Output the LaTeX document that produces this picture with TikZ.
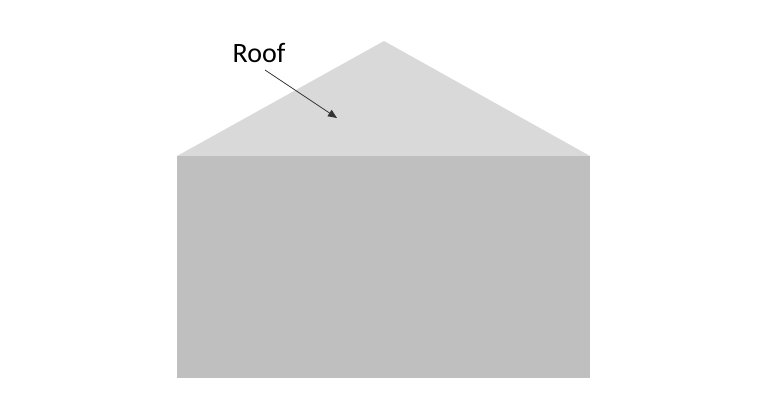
\documentclass[tikz,border=0pt]{standalone}
\usepackage{fontspec}
\setmainfont{Carlito}
\usetikzlibrary{arrows.meta}
\definecolor{roofgray}{HTML}{D9D9D9}
\definecolor{wallgray}{HTML}{BFBFBF}
\tikzset{
  roofshape/.style={fill=roofgray, draw=none},
  wallshape/.style={fill=wallgray, draw=none},
  labeltext/.style={font=\fontsize{28}{32}\selectfont, text=black, inner sep=0pt, anchor=center},
  pointer/.style={draw=black!80, line width=0.8pt, -{Triangle[length=9pt,width=7.5pt]}}
}
\begin{document}
\begin{tikzpicture}[x=1pt,y=-1pt]
\useasboundingbox (0,0) rectangle (768,417);
\coordinate (apex) at (384,41);
\coordinate (eaveL) at (177,156);
\coordinate (eaveR) at (590,156);
\coordinate (baseL) at (177,378);
\coordinate (baseR) at (590,378);
\fill[roofshape] (eaveL) -- (apex) -- (eaveR) -- cycle;
\fill[wallshape] (eaveL) rectangle (baseR);
\node[labeltext] (roof) at (259,53) {Roof};
\coordinate (tip) at (337,118);
\coordinate (tail) at (265,70);
\draw[pointer] (tail) -- (tip);
\end{tikzpicture}
\end{document}
